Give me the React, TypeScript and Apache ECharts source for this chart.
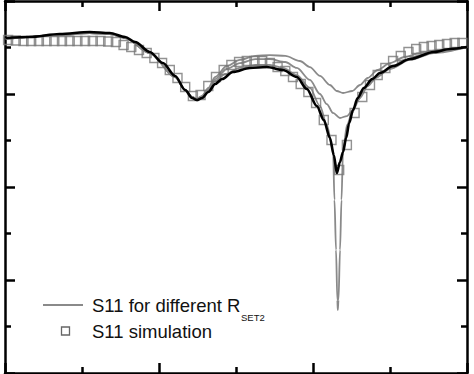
import React, { useEffect, useRef } from "react";
import * as echarts from "echarts";

// Frequency axis (arbitrary units, no labels shown) and S11 in dB
const xRange = { min: 0, max: 6, interval: 2 };
const yRange = { min: -40, max: 0, interval: 10 };

// Measured S11 (black)
const measuredS11: [number, number][] = [
  [0.01, -3.98], [0.32, -3.87], [0.71, -3.55], [1.10, -3.33], [1.36, -3.44],
  [1.56, -3.87], [1.69, -4.41], [1.88, -5.48], [2.05, -6.67], [2.21, -8.06],
  [2.34, -9.57], [2.43, -10.43], [2.49, -10.65], [2.56, -10.43], [2.64, -9.78],
  [2.73, -8.92], [2.82, -8.39], [2.96, -7.63], [3.18, -7.20], [3.40, -7.10],
  [3.61, -7.42], [3.79, -8.17], [3.92, -9.46], [4.05, -11.29], [4.14, -12.80],
  [4.22, -14.73], [4.27, -16.56], [4.31, -18.49], [4.35, -17.31], [4.39, -16.24],
  [4.43, -14.73], [4.47, -13.12], [4.52, -11.72], [4.58, -10.43], [4.66, -9.35],
  [4.77, -8.39], [4.87, -7.74], [5.04, -6.99], [5.26, -6.24], [5.57, -5.48],
  [5.78, -5.16], [6.0, -4.95],
];

// S11 for different R_SET2 (grey family)
const s11Shallow: [number, number][] = [
  [0.01, -4.09], [0.71, -3.66], [1.10, -3.44], [1.36, -3.55], [1.56, -3.98],
  [1.88, -5.59], [2.21, -8.17], [2.34, -9.57], [2.43, -10.32], [2.49, -10.54],
  [2.56, -10.22], [2.64, -9.35], [2.73, -8.17], [2.88, -6.99], [3.05, -6.34],
  [3.25, -5.91], [3.44, -5.81], [3.64, -5.91], [3.83, -6.45], [3.96, -7.10],
  [4.09, -8.06], [4.22, -9.03], [4.31, -9.68], [4.39, -9.89], [4.51, -9.68],
  [4.61, -9.03], [4.71, -8.28], [4.84, -7.42], [5.0, -6.67], [5.19, -6.02],
  [5.39, -5.59], [5.65, -5.27], [6.0, -4.95],
];
const s11Middle: [number, number][] = [
  [0.01, -4.09], [0.71, -3.66], [1.10, -3.44], [1.36, -3.55], [1.56, -3.98],
  [1.88, -5.59], [2.21, -8.17], [2.34, -9.57], [2.43, -10.32], [2.49, -10.54],
  [2.56, -10.22], [2.64, -9.46], [2.73, -8.39], [2.88, -7.31], [3.05, -6.67],
  [3.25, -6.24], [3.44, -6.24], [3.64, -6.56], [3.79, -7.20], [3.96, -8.49],
  [4.09, -10.0], [4.18, -11.08], [4.26, -12.04], [4.35, -12.58], [4.44, -12.37],
  [4.52, -11.72], [4.61, -10.43], [4.71, -9.14], [4.83, -8.17], [5.0, -7.20],
  [5.19, -6.34], [5.39, -5.81], [5.65, -5.38], [6.0, -4.95],
];
const s11Deep: [number, number][] = [
  [0.01, -4.09], [0.71, -3.66], [1.10, -3.44], [1.36, -3.55], [1.56, -3.98],
  [1.88, -5.59], [2.21, -8.17], [2.34, -9.57], [2.43, -10.32], [2.49, -10.54],
  [2.56, -10.22], [2.64, -9.46], [2.73, -8.60], [2.86, -7.85], [3.05, -7.20],
  [3.25, -6.88], [3.44, -6.88], [3.61, -7.20], [3.79, -7.96], [3.96, -9.35],
  [4.09, -11.29], [4.18, -13.33], [4.26, -16.02], [4.279, -21.40], [4.299, -26.77],
  [4.316, -32.15], [4.322, -33.23], [4.331, -32.15], [4.351, -26.77], [4.370, -21.40],
  [4.390, -16.02], [4.442, -13.33], [4.506, -12.04], [4.584, -10.65], [4.688, -9.25],
  [4.805, -8.28], [5.0, -7.31], [5.26, -6.34], [5.57, -5.59], [6.0, -4.95],
];

// S11 simulation (squares)
const simX: number[] = [
  0.04, 0.14, 0.24, 0.34, 0.44, 0.54, 0.64, 0.74, 0.84, 0.94,
  1.04, 1.14, 1.24, 1.34, 1.44, 1.54, 1.64, 1.74, 1.84, 1.94,
  2.04, 2.14, 2.24, 2.34, 2.44, 2.54, 2.64, 2.74, 2.84, 2.94,
  3.04, 3.14, 3.24, 3.34, 3.44, 3.54, 3.64, 3.74, 3.84, 3.94,
  4.04, 4.14, 4.24, 4.34, 4.44, 4.54, 4.64, 4.74, 4.84, 4.94,
  5.04, 5.14, 5.24, 5.34, 5.44, 5.54, 5.64, 5.74, 5.84, 5.94,
];
const simY: number[] = [
  -4.19, -4.25, -4.30, -4.30, -4.30, -4.30, -4.30, -4.30, -4.30, -4.30,
  -4.30, -4.30, -4.30, -4.35, -4.41, -4.73, -4.95, -5.27, -5.59, -6.13,
  -6.67, -7.42, -8.28, -9.25, -10.22, -10.11, -9.14, -8.17, -7.42, -6.88,
  -6.56, -6.45, -6.45, -6.45, -6.67, -7.10, -7.53, -8.17, -8.92, -9.78,
  -10.97, -12.80, -14.95, -18.17, -15.48, -12.04, -10.32, -9.03, -7.96, -7.20,
  -6.45, -5.91, -5.48, -5.16, -4.95, -4.84, -4.73, -4.62, -4.52, -4.52,
];

const legendLine = "S11 for different R";
const legendSub = "SET2";
const legendSim = "S11 simulation";

const GREY = "#8a8a8a";
const FONT = "'Liberation Sans', Arial, sans-serif";

function axisCommon() {
  return {
    axisLine: { show: true, onZero: false, lineStyle: { color: "#000", width: 2.5 } },
    axisTick: { show: true, inside: true, length: 10, lineStyle: { color: "#000", width: 2.5 } },
    minorTick: { show: true, splitNumber: 2, length: 6, lineStyle: { color: "#000", width: 2.5 } },
    axisLabel: { show: false },
    splitLine: { show: false },
    minorSplitLine: { show: false },
  };
}

export default function App() {
  const ref = useRef<HTMLDivElement>(null);
  useEffect(() => {
    if (!ref.current) return;
    const chart = echarts.init(ref.current, undefined, { renderer: "svg" });
    const greyLine = (name: string, data: [number, number][]) => ({
      name,
      type: "line",
      data,
      showSymbol: false,
      smooth: 0.3,
      smoothMonotone: "x",
      lineStyle: { color: GREY, width: 1.8 },
      z: 2,
    });
    chart.setOption({
      animation: false,
      backgroundColor: "#fff",
      grid: { left: 5, right: 7, top: 1, bottom: 1, containLabel: false },
      xAxis: [
        { type: "value", position: "bottom", ...xRange, ...axisCommon() },
        { type: "value", position: "top", ...xRange, ...axisCommon() },
      ],
      yAxis: [
        { type: "value", position: "left", ...yRange, ...axisCommon() },
        { type: "value", position: "right", ...yRange, ...axisCommon() },
      ],
      series: [
        greyLine("shallow", s11Shallow),
        greyLine("middle", s11Middle),
        greyLine("deep", s11Deep),
        {
          name: "simulation",
          type: "scatter",
          data: simX.map((x, i) => [x, simY[i]]),
          symbol: "rect",
          symbolSize: 9,
          itemStyle: { color: "rgba(0,0,0,0)", borderColor: "#777", borderWidth: 1.4 },
          z: 3,
        },
        {
          name: "measured",
          type: "line",
          data: measuredS11,
          showSymbol: false,
          smooth: 0.3,
          smoothMonotone: "x",
          lineStyle: { color: "#000", width: 2.6 },
          z: 4,
        },
      ],
      graphic: [
        {
          type: "line",
          shape: { x1: 43, y1: 305, x2: 83, y2: 305 },
          style: { stroke: GREY, lineWidth: 2 },
        },
        {
          type: "rect",
          shape: { x: 61.5, y: 327, width: 8, height: 8 },
          style: { fill: "none", stroke: "#666", lineWidth: 1.3 },
        },
        {
          type: "text",
          x: 92,
          y: 305,
          style: { text: legendLine, font: `18.5px ${FONT}`, fill: "#111", verticalAlign: "middle" },
        },
        {
          type: "text",
          x: 241,
          y: 317.5,
          style: { text: legendSub, font: `9.5px ${FONT}`, fill: "#111", verticalAlign: "middle" },
        },
        {
          type: "text",
          x: 92,
          y: 331,
          style: { text: legendSim, font: `18.5px ${FONT}`, fill: "#111", verticalAlign: "middle" },
        },
      ],
    });
    return () => chart.dispose();
  }, []);
  return (
    <div
      ref={ref}
      style={{ position: "absolute", left: 0, top: 0, width: 474, height: 374, background: "#fff" }}
    />
  );
}
